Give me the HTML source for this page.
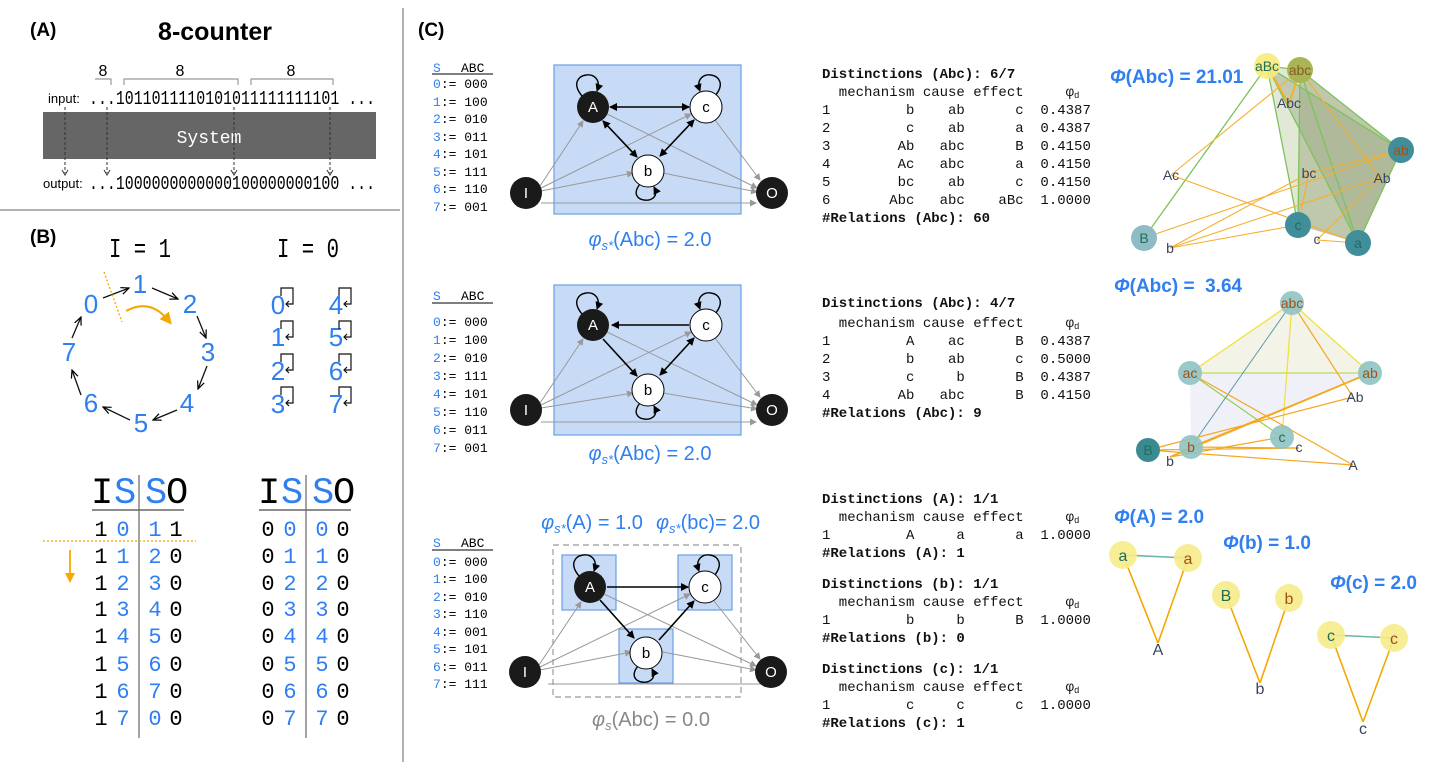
<!DOCTYPE html>
<html><head><meta charset="utf-8"><style>
html,body{margin:0;padding:0;background:#fff;}
body{position:relative;width:1432px;height:773px;overflow:hidden;}
svg{display:block;position:absolute;left:0;top:0;}
.m{font-family:"Liberation Mono",monospace;}
.s{font-family:"Liberation Sans",sans-serif;}
.bl{fill:#2f7ff0;}
.tx{position:absolute;left:822px;white-space:pre;font-family:"Liberation Mono",monospace;font-size:14px;line-height:18px;color:#111;margin:0;}
.tx b{font-weight:bold;}
.tx sub{font-size:9px;line-height:0;vertical-align:-2px;}
</style></head><body>
<svg width="1432" height="773" viewBox="0 0 1432 773" xmlns="http://www.w3.org/2000/svg">
<defs>
<marker id="ak" markerWidth="8" markerHeight="8" refX="7" refY="4" orient="auto" markerUnits="userSpaceOnUse"><path d="M0,0 L8,4 L0,8 z" fill="#000"/></marker>
<marker id="aks" markerWidth="8" markerHeight="8" refX="1" refY="4" orient="auto" markerUnits="userSpaceOnUse"><path d="M8,0 L0,4 L8,8 z" fill="#000"/></marker>
<marker id="ag" markerWidth="7" markerHeight="7" refX="6" refY="3.5" orient="auto" markerUnits="userSpaceOnUse"><path d="M0,0 L7,3.5 L0,7 z" fill="#999"/></marker>
<marker id="ao" markerWidth="12" markerHeight="12" refX="6" refY="6" orient="auto" markerUnits="userSpaceOnUse"><path d="M0,0 L12,6 L0,12 z" fill="#f5a800"/></marker>
<marker id="ab" markerWidth="9" markerHeight="9" refX="8" refY="4.5" orient="auto" markerUnits="userSpaceOnUse"><path d="M0,1 L8,4.5 L0,8" fill="none" stroke="#000" stroke-width="1.2"/></marker>
</defs>
<rect width="1432" height="773" fill="#fff"/>
<line x1="0" y1="210" x2="400" y2="210" stroke="#999" stroke-width="1.5"/>
<line x1="403" y1="8" x2="403" y2="762" stroke="#999" stroke-width="1.5"/>

<!-- Panel A -->
<text x="30" y="36" class="s" font-weight="bold" font-size="19">(A)</text>
<text x="215" y="40" class="s" font-weight="bold" font-size="25" text-anchor="middle">8-counter</text>
<g class="s" font-size="16" text-anchor="middle"><text x="103" y="76">8</text><text x="180" y="76">8</text><text x="291" y="76">8</text></g>
<g fill="none" stroke="#999" stroke-width="1.2">
<path d="M95,79 H111 V85"/><path d="M124,85 V79 H238 V85"/><path d="M251,85 V79 H333 V85"/>
</g>
<text x="48" y="103" class="s" font-size="13">input:</text>
<text x="89" y="104" class="m" font-size="19" textLength="286" lengthAdjust="spacingAndGlyphs">...1011011110101011111111101&#160;...</text>
<rect x="43" y="112" width="333" height="47" fill="#666"/>
<text x="209" y="143" class="m" font-size="18" fill="#fff" text-anchor="middle">System</text>
<text x="43" y="188" class="s" font-size="13">output:</text>
<text x="89" y="189" class="m" font-size="19" textLength="286" lengthAdjust="spacingAndGlyphs">...1000000000000100000000100&#160;...</text>
<g stroke="#333" stroke-dasharray="3,2" stroke-width="1">
<line x1="65" y1="107" x2="65" y2="173"/><line x1="107" y1="107" x2="107" y2="173"/><line x1="234" y1="107" x2="234" y2="173"/><line x1="330" y1="107" x2="330" y2="173"/>
</g>
<g fill="none" stroke="#333"><path d="M62,170 L65,175 L68,170"/><path d="M104,170 L107,175 L110,170"/><path d="M231,170 L234,175 L237,170"/><path d="M327,170 L330,175 L333,170"/></g>

<!-- Panel B -->
<text x="30" y="243" class="s" font-weight="bold" font-size="19">(B)</text>
<text x="140" y="257" class="m" font-size="27" text-anchor="middle" textLength="62" lengthAdjust="spacingAndGlyphs">I = 1</text>
<text x="308" y="257" class="m" font-size="27" text-anchor="middle" textLength="62" lengthAdjust="spacingAndGlyphs">I = 0</text>
<g class="s bl" font-size="26" text-anchor="middle">
<text x="140" y="293">1</text><text x="190" y="313">2</text><text x="208" y="361">3</text><text x="187" y="412">4</text>
<text x="141" y="432">5</text><text x="91" y="412">6</text><text x="69" y="361">7</text><text x="91" y="313">0</text>
</g>
<g stroke="#111" stroke-width="1.3" fill="none" marker-end="url(#ab)">
<line x1="103" y1="298" x2="129" y2="288"/><line x1="152" y1="288" x2="178" y2="299"/>
<line x1="197" y1="316" x2="206" y2="338"/><line x1="207" y1="366" x2="198" y2="389"/>
<line x1="177" y1="410" x2="153" y2="420"/><line x1="130" y1="420" x2="103" y2="407"/>
<line x1="81" y1="395" x2="72" y2="370"/><line x1="72" y1="338" x2="81" y2="317"/>
</g>
<line x1="104" y1="272" x2="122" y2="322" stroke="#f5a800" stroke-width="1.3" stroke-dasharray="2,2"/>
<path d="M126,311 Q150,298 168,320" fill="none" stroke="#f5a800" stroke-width="2" marker-end="url(#ao)"/>
<g class="s bl" font-size="26" text-anchor="middle">
<text x="278" y="314">0</text><text x="278" y="346">1</text><text x="278" y="380">2</text><text x="278" y="413">3</text>
<text x="336" y="314">4</text><text x="336" y="346">5</text><text x="336" y="380">6</text><text x="336" y="413">7</text>
</g>
<g fill="none" stroke="#111" stroke-width="1.2">
<path d="M281,296 V288 H293 V304 H286 M289,301 L286,304 L289,307"/>
<path d="M281,329 V321 H293 V337 H286 M289,334 L286,337 L289,340"/>
<path d="M281,362 V354 H293 V370 H286 M289,367 L286,370 L289,373"/>
<path d="M281,395 V387 H293 V403 H286 M289,400 L286,403 L289,406"/>
<path d="M339,296 V288 H351 V304 H344 M347,301 L344,304 L347,307"/>
<path d="M339,329 V321 H351 V337 H344 M347,334 L344,337 L347,340"/>
<path d="M339,362 V354 H351 V370 H344 M347,367 L344,370 L347,373"/>
<path d="M339,395 V387 H351 V403 H344 M347,400 L344,403 L347,406"/>
</g>
<g class="m" font-size="37">
<text x="91" y="503">I</text><text x="114" y="503" class="bl">S</text><text x="145" y="503" class="bl">S</text><text x="166" y="503">O</text>
<text x="258" y="503">I</text><text x="281" y="503" class="bl">S</text><text x="312" y="503" class="bl">S</text><text x="333" y="503">O</text>
</g>
<line x1="92" y1="510" x2="184" y2="510" stroke="#666" stroke-width="1.5"/>
<line x1="259" y1="510" x2="351" y2="510" stroke="#666" stroke-width="1.5"/>
<line x1="139" y1="475" x2="139" y2="738" stroke="#666" stroke-width="1.2"/>
<line x1="306" y1="475" x2="306" y2="738" stroke="#666" stroke-width="1.2"/>
<g class="m" font-size="22" text-anchor="middle">
<g>
<text x="101" y="536">1</text><text x="101" y="563">1</text><text x="101" y="590">1</text><text x="101" y="616">1</text><text x="101" y="643">1</text><text x="101" y="671">1</text><text x="101" y="698">1</text><text x="101" y="725">1</text>
<text x="176" y="536">1</text><text x="176" y="563">0</text><text x="176" y="590">0</text><text x="176" y="616">0</text><text x="176" y="643">0</text><text x="176" y="671">0</text><text x="176" y="698">0</text><text x="176" y="725">0</text>
</g>
<g class="bl">
<text x="123" y="536">0</text><text x="123" y="563">1</text><text x="123" y="590">2</text><text x="123" y="616">3</text><text x="123" y="643">4</text><text x="123" y="671">5</text><text x="123" y="698">6</text><text x="123" y="725">7</text>
<text x="155" y="536">1</text><text x="155" y="563">2</text><text x="155" y="590">3</text><text x="155" y="616">4</text><text x="155" y="643">5</text><text x="155" y="671">6</text><text x="155" y="698">7</text><text x="155" y="725">0</text>
</g>
<g>
<text x="268" y="536">0</text><text x="268" y="563">0</text><text x="268" y="590">0</text><text x="268" y="616">0</text><text x="268" y="643">0</text><text x="268" y="671">0</text><text x="268" y="698">0</text><text x="268" y="725">0</text>
<text x="343" y="536">0</text><text x="343" y="563">0</text><text x="343" y="590">0</text><text x="343" y="616">0</text><text x="343" y="643">0</text><text x="343" y="671">0</text><text x="343" y="698">0</text><text x="343" y="725">0</text>
</g>
<g class="bl">
<text x="290" y="536">0</text><text x="290" y="563">1</text><text x="290" y="590">2</text><text x="290" y="616">3</text><text x="290" y="643">4</text><text x="290" y="671">5</text><text x="290" y="698">6</text><text x="290" y="725">7</text>
<text x="322" y="536">0</text><text x="322" y="563">1</text><text x="322" y="590">2</text><text x="322" y="616">3</text><text x="322" y="643">4</text><text x="322" y="671">5</text><text x="322" y="698">6</text><text x="322" y="725">7</text>
</g>
</g>
<line x1="43" y1="541" x2="196" y2="541" stroke="#f5a800" stroke-width="1.3" stroke-dasharray="2,2"/>
<line x1="70" y1="550" x2="70" y2="574" stroke="#f5a800" stroke-width="1.8"/>
<path d="M65,573 L75,573 L70,583 z" fill="#f5a800"/>

<!-- Panel C -->
<text x="418" y="36" class="s" font-weight="bold" font-size="19">(C)</text>
<g class="m" font-size="13">
<text x="433" y="72" class="bl">S</text><text x="461" y="72">ABC</text>
<text x="433" y="88"><tspan class="bl">0</tspan>:= 000</text><text x="433" y="106"><tspan class="bl">1</tspan>:= 100</text>
<text x="433" y="123"><tspan class="bl">2</tspan>:= 010</text><text x="433" y="141"><tspan class="bl">3</tspan>:= 011</text>
<text x="433" y="158"><tspan class="bl">4</tspan>:= 101</text><text x="433" y="176"><tspan class="bl">5</tspan>:= 111</text>
<text x="433" y="193"><tspan class="bl">6</tspan>:= 110</text><text x="433" y="211"><tspan class="bl">7</tspan>:= 001</text>
<text x="433" y="300" class="bl">S</text><text x="461" y="300">ABC</text>
<text x="433" y="326"><tspan class="bl">0</tspan>:= 000</text><text x="433" y="344"><tspan class="bl">1</tspan>:= 100</text>
<text x="433" y="362"><tspan class="bl">2</tspan>:= 010</text><text x="433" y="380"><tspan class="bl">3</tspan>:= 111</text>
<text x="433" y="398"><tspan class="bl">4</tspan>:= 101</text><text x="433" y="416"><tspan class="bl">5</tspan>:= 110</text>
<text x="433" y="434"><tspan class="bl">6</tspan>:= 011</text><text x="433" y="452"><tspan class="bl">7</tspan>:= 001</text>
<text x="433" y="547" class="bl">S</text><text x="461" y="547">ABC</text>
<text x="433" y="566"><tspan class="bl">0</tspan>:= 000</text><text x="433" y="583"><tspan class="bl">1</tspan>:= 100</text>
<text x="433" y="601"><tspan class="bl">2</tspan>:= 010</text><text x="433" y="618"><tspan class="bl">3</tspan>:= 110</text>
<text x="433" y="636"><tspan class="bl">4</tspan>:= 001</text><text x="433" y="653"><tspan class="bl">5</tspan>:= 101</text>
<text x="433" y="671"><tspan class="bl">6</tspan>:= 011</text><text x="433" y="688"><tspan class="bl">7</tspan>:= 111</text>
</g>
<g stroke="#333" stroke-width="1.2"><line x1="432" y1="74" x2="493" y2="74"/><line x1="432" y1="303" x2="493" y2="303"/><line x1="432" y1="550" x2="493" y2="550"/></g>

<!-- network 1 -->
<rect x="554" y="65" width="187" height="149" fill="#c8dbf6" stroke="#6a9fe6" stroke-width="1.2"/>
<g stroke="#999" stroke-width="1" marker-end="url(#ag)">
<line x1="540" y1="186" x2="583" y2="121"/><line x1="541" y1="188" x2="691" y2="114"/><line x1="541" y1="191" x2="633" y2="173"/>
<line x1="541" y1="203" x2="756" y2="203"/><line x1="607" y1="114" x2="757" y2="188"/><line x1="715" y1="120" x2="760" y2="180"/><line x1="663" y1="173" x2="757" y2="192"/>
</g>
<g stroke="#000" stroke-width="1.6" marker-end="url(#ak)" marker-start="url(#aks)">
<line x1="610" y1="107" x2="689" y2="107"/><line x1="603" y1="121" x2="637" y2="157"/><line x1="694" y1="120" x2="660" y2="156"/>
</g>
<g fill="none" stroke="#000" stroke-width="1.4" marker-end="url(#ak)">
<path d="M582,96 C562,72 606,66 597,91"/><path d="M715,96 C735,72 691,66 700,91"/><path d="M640,184 C624,204 664,206 654,187"/>
</g>
<g class="s" font-size="15" text-anchor="middle">
<circle cx="593" cy="107" r="16" fill="#1a1a1a"/><text x="593" y="112" fill="#fff">A</text>
<circle cx="706" cy="107" r="16" fill="#fff" stroke="#000"/><text x="706" y="112">c</text>
<circle cx="648" cy="171" r="16" fill="#fff" stroke="#000"/><text x="648" y="176">b</text>
<circle cx="526" cy="193" r="16" fill="#1a1a1a"/><text x="526" y="198" fill="#fff">I</text>
<circle cx="772" cy="193" r="16" fill="#1a1a1a"/><text x="772" y="198" fill="#fff">O</text>
</g>
<text x="650" y="246" class="s bl" font-size="20" text-anchor="middle"><tspan font-style="italic">φ</tspan><tspan font-size="13" dy="4" font-style="italic">s*</tspan><tspan dy="-4">(Abc) = 2.0</tspan></text>

<!-- network 2 -->
<rect x="554" y="285" width="187" height="150" fill="#c8dbf6" stroke="#6a9fe6" stroke-width="1.2"/>
<g stroke="#999" stroke-width="1" marker-end="url(#ag)">
<line x1="540" y1="403" x2="583" y2="339"/><line x1="541" y1="405" x2="691" y2="332"/><line x1="541" y1="408" x2="633" y2="393"/>
<line x1="541" y1="422" x2="756" y2="422"/><line x1="607" y1="332" x2="757" y2="405"/><line x1="715" y1="338" x2="760" y2="397"/><line x1="663" y1="393" x2="757" y2="409"/>
</g>
<g stroke="#000" stroke-width="1.6" marker-end="url(#ak)">
<line x1="689" y1="325" x2="612" y2="325"/><line x1="603" y1="339" x2="637" y2="376"/>
<line x1="694" y1="338" x2="660" y2="375" marker-start="url(#aks)"/>
</g>
<g fill="none" stroke="#000" stroke-width="1.4" marker-end="url(#ak)">
<path d="M582,314 C562,290 606,284 597,309"/><path d="M715,314 C735,290 691,284 700,309"/><path d="M640,403 C624,423 664,425 654,406"/>
</g>
<g class="s" font-size="15" text-anchor="middle">
<circle cx="593" cy="325" r="16" fill="#1a1a1a"/><text x="593" y="330" fill="#fff">A</text>
<circle cx="706" cy="325" r="16" fill="#fff" stroke="#000"/><text x="706" y="330">c</text>
<circle cx="648" cy="390" r="16" fill="#fff" stroke="#000"/><text x="648" y="395">b</text>
<circle cx="526" cy="410" r="16" fill="#1a1a1a"/><text x="526" y="415" fill="#fff">I</text>
<circle cx="772" cy="410" r="16" fill="#1a1a1a"/><text x="772" y="415" fill="#fff">O</text>
</g>
<text x="650" y="460" class="s bl" font-size="20" text-anchor="middle"><tspan font-style="italic">φ</tspan><tspan font-size="13" dy="4" font-style="italic">s*</tspan><tspan dy="-4">(Abc) = 2.0</tspan></text>

<!-- network 3 -->
<rect x="553" y="545" width="188" height="152" fill="none" stroke="#999" stroke-width="1.2" stroke-dasharray="6,4"/>
<g fill="#c8dbf6" stroke="#6a9fe6" stroke-width="1.2">
<rect x="562" y="555" width="54" height="55"/><rect x="678" y="555" width="54" height="55"/><rect x="619" y="629" width="54" height="54"/>
</g>
<g stroke="#999" stroke-width="1" marker-end="url(#ag)">
<line x1="539" y1="665" x2="581" y2="602"/><line x1="540" y1="667" x2="690" y2="594"/><line x1="540" y1="670" x2="631" y2="652"/>
<line x1="548" y1="684" x2="770" y2="684"/><line x1="604" y1="594" x2="756" y2="666"/><line x1="714" y1="601" x2="760" y2="659"/><line x1="663" y1="652" x2="756" y2="670"/>
</g>
<g stroke="#000" stroke-width="1.6" marker-end="url(#ak)">
<line x1="607" y1="587" x2="688" y2="587"/><line x1="600" y1="600" x2="634" y2="638"/><line x1="659" y1="640" x2="694" y2="601"/>
</g>
<g fill="none" stroke="#000" stroke-width="1.4" marker-end="url(#ak)">
<path d="M579,576 C559,552 603,546 594,571"/><path d="M714,576 C734,552 690,546 699,571"/><path d="M638,666 C622,686 662,688 652,669"/>
</g>
<g class="s" font-size="15" text-anchor="middle">
<circle cx="590" cy="587" r="16" fill="#1a1a1a"/><text x="590" y="592" fill="#fff">A</text>
<circle cx="705" cy="587" r="16" fill="#fff" stroke="#000"/><text x="705" y="592">c</text>
<circle cx="646" cy="653" r="16" fill="#fff" stroke="#000"/><text x="646" y="658">b</text>
<circle cx="525" cy="672" r="16" fill="#1a1a1a"/><text x="525" y="677" fill="#fff">I</text>
<circle cx="771" cy="672" r="16" fill="#1a1a1a"/><text x="771" y="677" fill="#fff">O</text>
</g>
<text x="592" y="529" class="s bl" font-size="20" text-anchor="middle"><tspan font-style="italic">φ</tspan><tspan font-size="13" dy="4" font-style="italic">s*</tspan><tspan dy="-4">(A) = 1.0</tspan></text>
<text x="708" y="529" class="s bl" font-size="20" text-anchor="middle"><tspan font-style="italic">φ</tspan><tspan font-size="13" dy="4" font-style="italic">s*</tspan><tspan dy="-4">(bc)= 2.0</tspan></text>
<text x="651" y="726" class="s" fill="#888" font-size="20" text-anchor="middle"><tspan font-style="italic">φ</tspan><tspan font-size="13" dy="4" font-style="italic">s</tspan><tspan dy="-4">(Abc) = 0.0</tspan></text>

<!-- graph 1 -->
<g>
<polygon points="1267,66 1300,70 1298,225" fill="#dfe6d2" opacity="0.9"/>
<polygon points="1300,70 1401,150 1358,243 1298,225" fill="#aab58f" opacity="0.75"/>
<polygon points="1267,66 1401,150 1358,243" fill="#9aa884" opacity="0.45"/>
<g stroke="#7cc35a" stroke-width="1.3" fill="none">
<line x1="1267" y1="66" x2="1144" y2="238"/><line x1="1267" y1="66" x2="1298" y2="225"/><line x1="1300" y1="70" x2="1298" y2="225"/>
<line x1="1267" y1="66" x2="1358" y2="243"/><line x1="1300" y1="70" x2="1358" y2="243"/><line x1="1267" y1="66" x2="1401" y2="150"/>
<line x1="1300" y1="70" x2="1401" y2="150"/><line x1="1401" y1="150" x2="1358" y2="243"/><line x1="1267" y1="66" x2="1300" y2="70"/>
</g>
<g stroke="#f5b030" stroke-width="1.1" fill="none">
<line x1="1300" y1="70" x2="1171" y2="175"/><line x1="1171" y1="175" x2="1358" y2="243"/><line x1="1401" y1="150" x2="1144" y2="238"/>
<line x1="1380" y1="178" x2="1170" y2="248"/><line x1="1298" y1="225" x2="1170" y2="248"/><line x1="1309" y1="173" x2="1298" y2="225"/>
<line x1="1401" y1="150" x2="1309" y2="173"/><line x1="1380" y1="178" x2="1317" y2="240"/><line x1="1317" y1="240" x2="1358" y2="243"/>
<line x1="1300" y1="70" x2="1380" y2="178"/><line x1="1267" y1="66" x2="1289" y2="104" stroke-width="2"/><line x1="1300" y1="70" x2="1289" y2="104" stroke-width="2"/>
<line x1="1309" y1="173" x2="1170" y2="248"/>
</g>
<circle cx="1267" cy="66" r="13" fill="#f7eb7a" opacity="0.9"/>
<circle cx="1300" cy="70" r="13" fill="#a9b554"/>
<circle cx="1401" cy="150" r="13" fill="#3f8e9a"/>
<circle cx="1144" cy="238" r="13" fill="#8fbcc4"/>
<circle cx="1298" cy="225" r="13" fill="#3f8e9a"/>
<circle cx="1358" cy="243" r="13" fill="#3f8e9a"/>
<g class="s" font-size="14" text-anchor="middle">
<text x="1267" y="71" fill="#1f6e5a">aBc</text><text x="1300" y="75" fill="#8a5a20">abc</text><text x="1401" y="155" fill="#a0521a">ab</text>
<text x="1144" y="243" fill="#1f6e5a">B</text><text x="1298" y="230" fill="#1f6e5a">c</text><text x="1358" y="248" fill="#1f6e5a">a</text>
<g fill="#3a4460"><text x="1289" y="108">Abc</text><text x="1171" y="180">Ac</text><text x="1309" y="178">bc</text><text x="1382" y="183">Ab</text><text x="1170" y="253">b</text><text x="1317" y="244">c</text></g>
</g>
</g>
<text x="1110" y="83" class="s bl" font-size="19" font-weight="bold"><tspan font-style="italic">Φ</tspan>(Abc) = 21.01</text>

<!-- graph 2 -->
<g>
<polygon points="1292,303 1190,373 1370,373" fill="#f3f2e4" opacity="0.9"/>
<polygon points="1190,373 1370,373 1191,447" fill="#eef0f7" opacity="0.9"/>
<g stroke="#f2e040" stroke-width="1.3"><line x1="1292" y1="303" x2="1190" y2="373"/><line x1="1292" y1="303" x2="1370" y2="373"/><line x1="1292" y1="303" x2="1282" y2="437"/></g>
<line x1="1190" y1="373" x2="1370" y2="373" stroke="#c8e070" stroke-width="1.5"/>
<line x1="1190" y1="373" x2="1282" y2="437" stroke="#9ccc50" stroke-width="1.2"/>
<line x1="1292" y1="303" x2="1191" y2="447" stroke="#5a9aa5" stroke-width="1"/>
<g stroke="#f5a820" stroke-width="1.2" fill="none">
<line x1="1370" y1="373" x2="1170" y2="457" stroke-width="1.8"/><line x1="1370" y1="373" x2="1191" y2="447"/>
<line x1="1292" y1="303" x2="1353" y2="397"/><line x1="1353" y1="397" x2="1148" y2="450"/>
<line x1="1190" y1="373" x2="1353" y2="465"/><line x1="1148" y1="450" x2="1353" y2="465"/>
<line x1="1148" y1="450" x2="1299" y2="448"/><line x1="1191" y1="447" x2="1299" y2="448"/>
<line x1="1170" y1="457" x2="1282" y2="437"/>
</g>
<circle cx="1292" cy="303" r="12" fill="#8fc3c3" opacity="0.9"/>
<circle cx="1190" cy="373" r="12" fill="#8fc3c3" opacity="0.9"/>
<circle cx="1370" cy="373" r="12" fill="#8fc3c3" opacity="0.9"/>
<circle cx="1282" cy="437" r="12" fill="#8fc3c3" opacity="0.9"/>
<circle cx="1191" cy="447" r="12" fill="#8fc3c3" opacity="0.9"/>
<circle cx="1148" cy="450" r="12" fill="#3a8a92"/>
<g class="s" font-size="14" text-anchor="middle">
<text x="1292" y="308" fill="#a0521a">abc</text><text x="1190" y="378" fill="#a0521a">ac</text><text x="1370" y="378" fill="#a0521a">ab</text>
<text x="1282" y="442" fill="#1f6e5a">c</text><text x="1191" y="452" fill="#a0521a">b</text><text x="1148" y="455" fill="#1f6e5a">B</text>
<g fill="#3a4460"><text x="1355" y="402">Ab</text><text x="1299" y="452">c</text><text x="1170" y="466">b</text><text x="1353" y="470">A</text></g>
</g>
</g>
<text x="1114" y="292" class="s bl" font-size="19" font-weight="bold"><tspan font-style="italic">Φ</tspan>(Abc) =&#160; 3.64</text>

<!-- graph 3 -->
<g stroke-width="1.6">
<line x1="1123" y1="555" x2="1188" y2="558" stroke="#6cb8a8"/>
<line x1="1331" y1="635" x2="1394" y2="638" stroke="#6cb8a8"/>
<g stroke="#f5a800"><line x1="1123" y1="555" x2="1158" y2="643"/><line x1="1188" y1="558" x2="1158" y2="643"/>
<line x1="1226" y1="595" x2="1260" y2="683"/><line x1="1289" y1="598" x2="1260" y2="683"/>
<line x1="1331" y1="635" x2="1363" y2="722"/><line x1="1394" y1="638" x2="1363" y2="722"/></g>
</g>
<g fill="#f7ec8a" opacity="0.9">
<circle cx="1123" cy="555" r="14"/><circle cx="1188" cy="558" r="14"/><circle cx="1226" cy="595" r="14"/><circle cx="1289" cy="598" r="14"/><circle cx="1331" cy="635" r="14"/><circle cx="1394" cy="638" r="14"/>
</g>
<g class="s" font-size="16" text-anchor="middle">
<text x="1123" y="561" fill="#1f6e5a">a</text><text x="1188" y="564" fill="#a0521a">a</text>
<text x="1226" y="601" fill="#1f6e5a">B</text><text x="1289" y="604" fill="#a0521a">b</text>
<text x="1331" y="641" fill="#1f6e5a">c</text><text x="1394" y="644" fill="#a0521a">c</text>
<g fill="#3a4460"><text x="1158" y="655">A</text><text x="1260" y="694">b</text><text x="1363" y="734">c</text></g>
</g>
<g class="s bl" font-size="19" font-weight="bold">
<text x="1114" y="523"><tspan font-style="italic">Φ</tspan>(A) = 2.0</text>
<text x="1223" y="549"><tspan font-style="italic">Φ</tspan>(b) = 1.0</text>
<text x="1330" y="589"><tspan font-style="italic">Φ</tspan>(c) = 2.0</text>
</g>
</svg>

<div class="tx" style="top:66px"><b>Distinctions (Abc): 6/7</b>
  mechanism cause effect     φ<sub>d</sub>
1         b    ab      c  0.4387
2         c    ab      a  0.4387
3        Ab   abc      B  0.4150
4        Ac   abc      a  0.4150
5        bc    ab      c  0.4150
6       Abc   abc    aBc  1.0000
<b>#Relations (Abc): 60</b></div>

<div class="tx" style="top:295px"><b>Distinctions (Abc): 4/7</b></div>
<div class="tx" style="top:315px">  mechanism cause effect     φ<sub>d</sub>
1         A    ac      B  0.4387
2         b    ab      c  0.5000
3         c     b      B  0.4387
4        Ab   abc      B  0.4150
<b>#Relations (Abc): 9</b></div>

<div class="tx" style="top:491px"><b>Distinctions (A): 1/1</b>
  mechanism cause effect     φ<sub>d</sub>
1         A     a      a  1.0000
<b>#Relations (A): 1</b></div>

<div class="tx" style="top:576px"><b>Distinctions (b): 1/1</b>
  mechanism cause effect     φ<sub>d</sub>
1         b     b      B  1.0000
<b>#Relations (b): 0</b></div>

<div class="tx" style="top:661px"><b>Distinctions (c): 1/1</b>
  mechanism cause effect     φ<sub>d</sub>
1         c     c      c  1.0000
<b>#Relations (c): 1</b></div>
</body></html>
